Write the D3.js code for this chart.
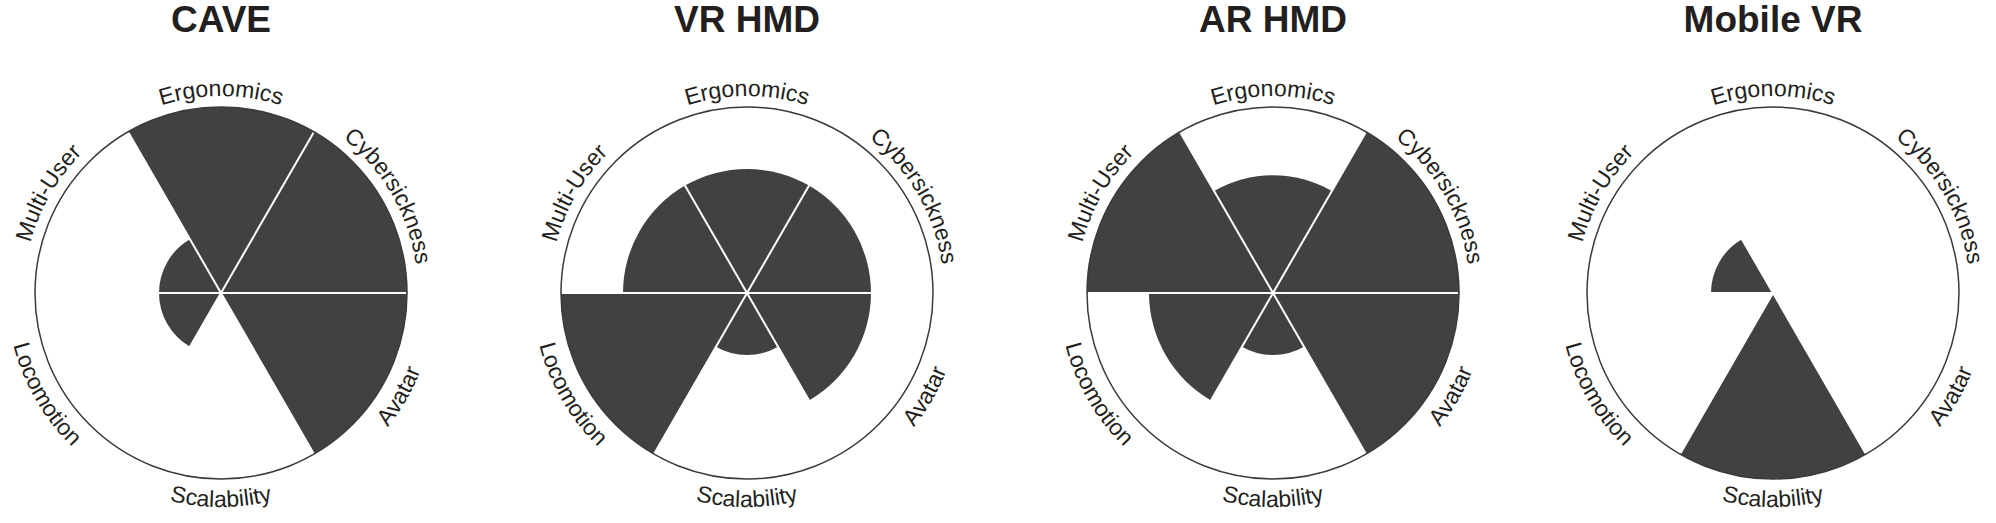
<!DOCTYPE html>
<html>
<head>
<meta charset="utf-8">
<script src="https://cdn.jsdelivr.net/npm/d3@7"></script>
<style>
  body { margin: 0; background: #fff; }
  text { font-family: "Liberation Sans", Arial, sans-serif; fill: #231f20; }
</style>
</head>
<body>
<svg id="chart" width="1996" height="523"></svg>
<script>
// Categories in clockwise order starting at the top
const categories = ["Ergonomics", "Cybersickness", "Avatar", "Scalability", "Locomotion", "Multi-User"];
const titles = ["CAVE", "VR HMD", "AR HMD", "Mobile VR"];
// Ratings on a 0-3 scale
const caveValues   = [3, 3, 3, 0, 1, 1];
const vrHmdValues  = [2, 2, 2, 1, 3, 2];
const arHmdValues  = [1.9, 3, 3, 1, 2, 3];
const mobileValues = [0, 0, 0, 3, 0, 1];
const allValues = [caveValues, vrHmdValues, arHmdValues, mobileValues];
const centersX = [221, 747, 1273, 1773];

const svg = d3.select("#chart");
const cy = 293, R = 186;
const r = d3.scaleLinear().domain([0, 3]).range([0, R]);
const step = 2 * Math.PI / categories.length;
const start = i => i * step - step / 2;
const arc = d3.arc().innerRadius(0);

function polar(rad, a) { return [rad * Math.sin(a), -rad * Math.cos(a)]; }

titles.forEach((title, k) => {
  const g = svg.append("g").attr("transform", `translate(${centersX[k]},${cy})`);
  const vals = allValues[k];

  g.selectAll("path.wedge").data(vals).enter().append("path")
    .attr("class", "wedge")
    .attr("d", (v, i) => arc({ outerRadius: r(v), startAngle: start(i), endAngle: start(i) + step }))
    .attr("fill", "#414143");

  // white separators
  categories.forEach((c, i) => {
    const [x, y] = polar(R - 1, start(i));
    g.append("line").attr("x1", 0).attr("y1", 0).attr("x2", x).attr("y2", y)
      .attr("stroke", "#fff").attr("stroke-width", 2);
  });

  g.append("circle").attr("r", R).attr("fill", "none")
    .attr("stroke", "#3a3a3a").attr("stroke-width", 1.5);

  // curved labels
  categories.forEach((c, i) => {
    const mid = start(i) + step / 2;
    const bottom = Math.cos(mid) < -0.1;
    const rad = bottom ? 214 : 197;
    const a0 = mid - step / 2, a1 = mid + step / 2;
    let d;
    if (!bottom) {
      const [x0, y0] = polar(rad, a0), [x1, y1] = polar(rad, a1);
      d = `M${x0},${y0}A${rad},${rad} 0 0 1 ${x1},${y1}`;
    } else {
      const [x0, y0] = polar(rad, a1), [x1, y1] = polar(rad, a0);
      d = `M${x0},${y0}A${rad},${rad} 0 0 0 ${x1},${y1}`;
    }
    const id = `lp${k}_${i}`;
    g.append("path").attr("id", id).attr("d", d).attr("fill", "none");
    g.append("text").attr("font-size", 23)
      .append("textPath").attr("href", "#" + id)
      .attr("startOffset", "50%").attr("text-anchor", "middle")
      .text(c);
  });

  svg.append("text").attr("x", centersX[k]).attr("y", 32)
    .attr("text-anchor", "middle").attr("font-size", 37).attr("font-weight", "bold")
    .text(title);
});
</script>
</body>
</html>
